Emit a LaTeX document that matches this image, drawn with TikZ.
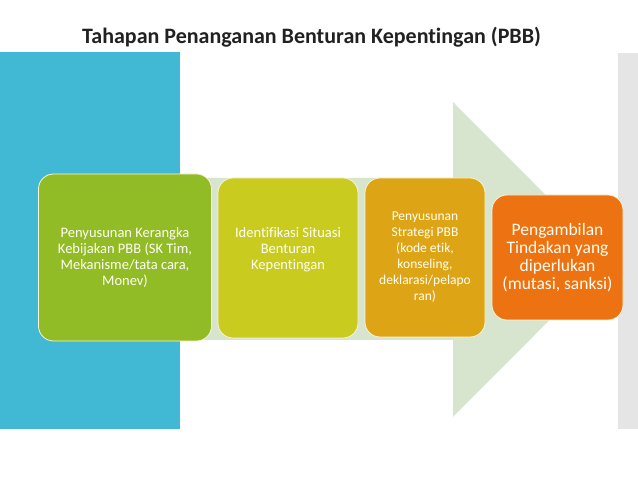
\documentclass[tikz,border=0pt]{standalone}
\usepackage{fontspec}
\setmainfont[Ligatures={NoCommon,NoContextual},RawFeature={-liga;-clig;-dlig}]{Carlito}
\usetikzlibrary{positioning}
\definecolor{panelblue}{RGB}{65,184,212}
\definecolor{arrowgreen}{RGB}{216,229,206}
\definecolor{stepone}{RGB}{146,188,37}
\definecolor{steptwo}{RGB}{201,203,31}
\definecolor{stepthree}{RGB}{221,165,22}
\definecolor{stepfour}{RGB}{237,114,17}
\definecolor{edgecream}{RGB}{248,244,214}
\definecolor{stripgray}{RGB}{229,229,229}
\tikzset{
    stepbox/.style={
    rectangle,rounded corners=15pt,draw=edgecream,line width=0.8pt,inner sep=0pt
    },
    steptext/.style={
    text=white!96!yellow,align=center,inner sep=0pt,font=\fontsize{14.5}{16}\selectfont
    },
    bigtext/.style={
    text=white!96!yellow,align=center,inner sep=0pt,font=\fontsize{17.5}{18}\selectfont
    },
}
\begin{document}
\begin{tikzpicture}[x=1pt,y=-1pt]
  \useasboundingbox[fill=white] (0,0) rectangle (638,478);
  \node[font=\fontsize{22}{24}\bfseries\selectfont,text=black!87] (title) at (311.5,37) {Tahapan Penanganan Benturan Kepentingan (PBB)};

  % background
  \fill[arrowgreen] (100,178) -- (453,178) -- (453,102) -- (610,259.5)
    -- (453,417) -- (453,340) -- (100,340) -- cycle;
  \fill[panelblue] (0,52) rectangle (180,429);
  \fill[stripgray] (618,53) rectangle (638,429);

  \node[stepbox,fill=stepone,minimum width=173pt,minimum height=167pt] (s1) at (125,257.5) {};
  \node[stepbox,fill=steptwo,minimum width=140pt,minimum height=160pt] (s2) at (288,258) {};
  \node[stepbox,fill=stepthree,minimum width=120pt,minimum height=159pt] (s3) at (425,257.5) {};
  \node[stepbox,fill=stepfour,minimum width=131pt,minimum height=125pt] (s4) at (557.5,257.5) {};

  \node[steptext] (t1) at (s1.center) {Penyusunan Kerangka\\Kebijakan PBB (SK Tim,\\Mekanisme/tata cara,\\Monev)};
  \node[steptext] (t2) at ([yshift=8pt]s2.center) {Identifikasi Situasi\\Benturan\\Kepentingan};
  \node[steptext,font=\fontsize{13.5}{16}\selectfont] (t3) at (s3.center) {Penyusunan\\Strategi PBB\\(kode etik,\\konseling,\\deklarasi/pelapo\\ran)};
  \node[bigtext] (t4) at (s4.center) {Pengambilan\\Tindakan yang\\diperlukan\\(mutasi, sanksi)};
\end{tikzpicture}
\end{document}
